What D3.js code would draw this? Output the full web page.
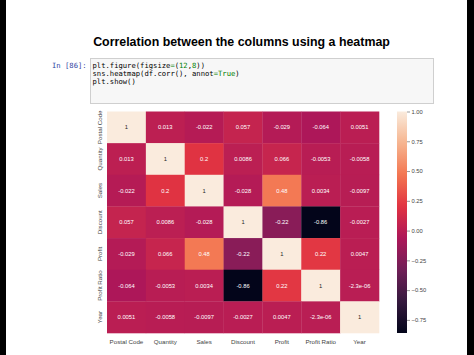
<!DOCTYPE html>
<html><head><meta charset="utf-8">
<script src="https://cdn.jsdelivr.net/npm/d3@7"></script>
<style>body{margin:0;background:#fff;}svg{display:block;}</style>
</head><body>
<svg id="c" width="474" height="355"></svg>
<script>
const columns = ["Postal Code","Quantity","Sales","Discount","Profit","Profit Ratio","Year"];
const rowPostal  = [1, 0.013, -0.022, 0.057, -0.029, -0.064, 0.0051];
const rowQty     = [0.013, 1, 0.2, 0.0086, 0.066, -0.0053, -0.0058];
const rowSales   = [-0.022, 0.2, 1, -0.028, 0.48, 0.0034, -0.0097];
const rowDisc    = [0.057, 0.0086, -0.028, 1, -0.22, -0.86, -0.0027];
const rowProfit  = [-0.029, 0.066, 0.48, -0.22, 1, 0.22, 0.0047];
const rowRatio   = [-0.064, -0.0053, 0.0034, -0.86, 0.22, 1, -2.3e-06];
const rowYear    = [0.0051, -0.0058, -0.0097, -0.0027, 0.0047, -2.3e-06, 1];
const colorbarTicks = [1.0, 0.75, 0.5, 0.25, 0.0, -0.25, -0.5, -0.75];
const rocketStops = ["#03051a","#35193e","#701f57","#ad1759","#e13342","#f37651","#f6b48f","#faebdd"];

const matrix = [rowPostal,rowQty,rowSales,rowDisc,rowProfit,rowRatio,rowYear];
const vmin = d3.min(matrix.flat()), vmax = d3.max(matrix.flat());

const svg = d3.select("#c");
// side bars
svg.append("rect").attr("x",0).attr("y",0).attr("width",6).attr("height",355).attr("fill","#000");
svg.append("rect").attr("x",467).attr("y",0).attr("width",7).attr("height",355).attr("fill","#000");

// title
svg.append("text").attr("x",241.5).attr("y",45.5).attr("text-anchor","middle")
  .attr("font-family","Liberation Sans, Arial, sans-serif").attr("font-weight","bold")
  .attr("font-size",12.4).attr("fill","#000")
  .text("Correlation between the columns using a heatmap");

// code cell
svg.append("rect").attr("x",90.5).attr("y",58.5).attr("width",343).attr("height",45)
  .attr("fill","#f7f7f7").attr("stroke","#cfcfcf").attr("stroke-width",1);
const mono = "DejaVu Sans Mono, Liberation Mono, monospace";
svg.append("text").attr("x",52).attr("y",67.5).attr("font-family",mono).attr("font-size",7.2)
  .attr("fill","#303f9f").text("In [86]:");
const codeLines = [
  [["plt.figure(figsize","#000"],["=","#008000"],["(","#000"],["12","#008000"],[",","#000"],["8","#008000"],["))","#000"]],
  [["sns.heatmap(df.corr(), annot","#000"],["=","#008000"],["True","#008000"],[")","#000"]],
  [["plt.show()","#000"]]
];
codeLines.forEach((line,i)=>{
  const t = svg.append("text").attr("x",92.5).attr("y",67.5+i*8).attr("font-family",mono)
    .attr("font-size",7.2).attr("xml:space","preserve");
  line.forEach(([s,c])=>t.append("tspan").attr("fill",c).text(s));
});

// heatmap
const x0 = 107, x1 = 379, y0 = 111.5, y1 = 333;
const xs = d3.scaleBand().domain(columns).range([x0,x1]);
const ys = d3.scaleBand().domain(columns).range([y0,y1]);
const tScale = d3.scaleLinear().domain([vmin,vmax]).range([0,1]);
const color = d3.scaleLinear()
  .domain(rocketStops.map((_,i)=>i/(rocketStops.length-1)))
  .range(rocketStops).interpolate(d3.interpolateRgb).clamp(true);
const col = v => color(tScale(v));

function fmt(v){
  if (v === 0) return "0";
  const a = Math.abs(v);
  if (a < 1e-4) {
    let s = v.toExponential(1).replace(/\.0e/,"e");
    return s.replace(/e([+-])(\d)$/,"e$10$2");
  }
  return String(+v.toPrecision(2));
}
function lum(c){
  const r = d3.rgb(c);
  const f = x => { x/=255; return x<=0.03928? x/12.92 : Math.pow((x+0.055)/1.055,2.4); };
  return 0.2126*f(r.r)+0.7152*f(r.g)+0.0722*f(r.b);
}

const cells = [];
matrix.forEach((row,i)=>row.forEach((v,j)=>cells.push({r:columns[i],c:columns[j],v})));
const g = svg.append("g");
g.selectAll("rect").data(cells).join("rect")
  .attr("x",d=>xs(d.c)).attr("y",d=>ys(d.r))
  .attr("width",xs.bandwidth()+0.3).attr("height",ys.bandwidth()+0.3)
  .attr("fill",d=>col(d.v));
const sans = "Liberation Sans, Arial, sans-serif";
g.selectAll("text").data(cells).join("text")
  .attr("x",d=>xs(d.c)+xs.bandwidth()/2).attr("y",d=>ys(d.r)+ys.bandwidth()/2+2)
  .attr("text-anchor","middle").attr("font-family",sans).attr("font-size",5.8)
  .attr("fill",d=>lum(col(d.v))>0.408?"#262626":"#fff")
  .text(d=>fmt(d.v));

// axis labels
svg.append("g").selectAll("text").data(columns).join("text")
  .attr("transform",d=>`translate(${x0-5.5},${ys(d)+ys.bandwidth()/2}) rotate(-90)`)
  .attr("text-anchor","middle").attr("font-family",sans).attr("font-size",6.2).attr("fill","#444")
  .text(d=>d);
svg.append("g").selectAll("text").data(columns).join("text")
  .attr("x",d=>xs(d)+xs.bandwidth()/2).attr("y",y1+10.5)
  .attr("text-anchor","middle").attr("font-family",sans).attr("font-size",6.2).attr("fill","#444")
  .text(d=>d);

// colorbar
const cbx = 397, cbw = 10;
const cy = d3.scaleLinear().domain([vmin,vmax]).range([y1,y0]);
const defs = svg.append("defs");
const grad = defs.append("linearGradient").attr("id","cb").attr("x1",0).attr("y1",1).attr("x2",0).attr("y2",0);
d3.range(0,1.0001,0.02).forEach(t=>grad.append("stop").attr("offset",t).attr("stop-color",color(t)));
svg.append("rect").attr("x",cbx).attr("y",y0).attr("width",cbw).attr("height",y1-y0).attr("fill","url(#cb)");
const axis = d3.axisRight(cy).tickValues(colorbarTicks).tickSize(3).tickPadding(1.5)
  .tickFormat(d=>d3.format(".2f")(d).replace("-","\u2212"));
const ag = svg.append("g").attr("transform",`translate(${cbx+cbw},0)`).call(axis);
ag.select(".domain").remove();
ag.selectAll("line").attr("stroke","#555").attr("stroke-width",0.6);
ag.selectAll("text").attr("font-family",sans).attr("font-size",5.8).attr("fill","#444");
</script>
</body></html>
